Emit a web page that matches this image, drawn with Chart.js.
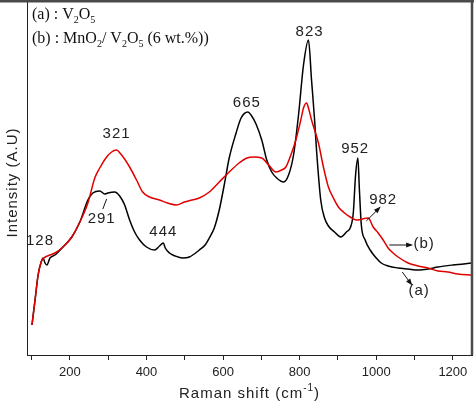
<!DOCTYPE html>
<html>
<head>
<meta charset="utf-8">
<script src="https://cdn.jsdelivr.net/npm/chart.js@4/dist/chart.umd.min.js"></script>
<style>
  html, body { margin: 0; padding: 0; background: #fff; }
  #wrap { width: 474px; height: 404px; }
</style>
</head>
<body>
<div id="wrap"><canvas id="raman"></canvas></div>
<script>
// (a) V2O5 - black curve
const ramanA = [101, 109, 117, 125, 130, 135, 140, 148, 161, 182, 205, 226, 247, 260, 278, 291, 299, 317, 330, 343,
    356, 369, 382, 400, 421, 434, 444, 449, 460, 475, 494, 512, 538, 553, 564, 577, 590, 603, 616, 634,
    647, 665, 673, 686, 701, 714, 727, 740, 758, 771, 784, 797, 810, 823, 831, 839, 844, 855, 865, 875,
    891, 907, 922, 933, 940, 946, 952, 956, 961, 971, 984, 1000, 1013, 1031, 1057, 1083, 1109, 1135, 1161, 1200, 1250];
const intensityA = [30, 55, 80, 93, 97, 92, 90, 97, 100, 108, 118, 133, 155, 162, 164, 161, 162, 163, 159, 150,
    135, 123, 115, 108, 105, 109, 112, 107, 102, 99, 97, 98, 105, 110, 117, 127, 145, 170, 197, 222,
    237, 243, 240, 231, 215, 195, 183, 177, 173, 180, 200, 240, 290, 315, 275, 235, 205, 155, 137, 129,
    123, 118, 123, 128, 142, 180, 197, 165, 130, 115, 105, 97, 92, 89, 87, 86, 85, 86, 88, 90, 92];

// (b) MnO2/V2O5 (6 wt.%) - red curve
const ramanB = [101, 109, 117, 125, 132, 148, 161, 182, 205, 226, 247, 265, 278, 296, 309, 321, 335, 356, 374, 390,
    408, 434, 455, 478, 499, 519, 538, 564, 590, 616, 642, 662, 681, 701, 719, 738, 753, 764, 777, 790,
    803, 810, 818, 823, 831, 839, 849, 862, 875, 888, 901, 917, 932, 948, 964, 979, 992, 1005, 1018, 1031,
    1044, 1057, 1083, 1109, 1135, 1161, 1187, 1213, 1250];
const intensityB = [30, 55, 80, 93, 97, 100, 102, 108, 118, 133, 152, 177, 187, 198, 203, 205, 200, 188, 175, 163,
    158, 155, 152, 150, 153, 155, 157, 163, 173, 183, 192, 197, 198, 197, 190, 183, 185, 188, 200, 215,
    235, 247, 252, 247, 235, 225, 212, 188, 168, 157, 148, 142, 138, 135, 136, 137, 128, 122, 115, 107,
    102, 98, 92, 89, 87, 84, 83, 81, 80];

const xTicks = [100, 200, 300, 400, 500, 600, 700, 800, 900, 1000, 1100, 1200];

// peak labels
const peakText = ['128', '291', '321', '444', '665', '823', '952', '982', '(b)', '(a)'];
const peakX = [122, 283, 322, 444, 662, 826, 945, 1018, 1125, 1112];
const peakY = [114, 136, 221, 123, 252, 323, 206, 155, 111, 64];

// pointer arrows [x0, y0, x1, y1, head]
const arrows = [
    [286, 146, 296, 156, false],
    [974, 134, 1008, 147, true],
    [1034, 110, 1091, 110, true],
    [1068, 83, 1091, 71, true]
];

function toPoints(xs, ys) {
    return xs.map((x, i) => ({ x: x, y: ys[i] }));
}

function drawSub(ctx, parts, x, y) {
    // parts: [text, isSub]
    parts.forEach(p => {
        if (p[1]) {
            ctx.font = '10px "Liberation Serif", "Times New Roman", serif';
            ctx.fillText(p[0], x, y + 4);
        } else {
            ctx.font = '16px "Liberation Serif", "Times New Roman", serif';
            ctx.fillText(p[0], x, y);
        }
        x += ctx.measureText(p[0]).width;
    });
}

const extras = {
    id: 'extras',
    afterDraw(chart) {
        const ctx = chart.ctx;
        const a = chart.chartArea;
        const xs = chart.scales.x;
        const ys = chart.scales.y;
        ctx.save();

        // frame
        ctx.strokeStyle = '#222';
        ctx.lineWidth = 1;
        ctx.beginPath();
        ctx.moveTo(a.left + 0.5, a.top);
        ctx.lineTo(a.left + 0.5, a.bottom);
        ctx.stroke();
        ctx.strokeStyle = '#4a4a4a';
        ctx.lineWidth = 2.5;
        ctx.beginPath();
        ctx.moveTo(0, 1.2);
        ctx.lineTo(474, 1.2);
        ctx.moveTo(a.right, 0);
        ctx.lineTo(a.right, a.bottom);
        ctx.stroke();

        // peak labels
        ctx.fillStyle = '#222';
        ctx.font = '15px "Liberation Sans", Arial, sans-serif';
        ctx.letterSpacing = '1px';
        ctx.textAlign = 'center';
        ctx.textBaseline = 'middle';
        peakText.forEach((t, i) => {
            ctx.fillText(t, xs.getPixelForValue(peakX[i]), ys.getPixelForValue(peakY[i]));
        });

        // arrows
        ctx.strokeStyle = '#111';
        ctx.fillStyle = '#111';
        ctx.lineWidth = 1;
        arrows.forEach(ar => {
            const x0 = xs.getPixelForValue(ar[0]), y0 = ys.getPixelForValue(ar[1]);
            const x1 = xs.getPixelForValue(ar[2]), y1 = ys.getPixelForValue(ar[3]);
            ctx.beginPath();
            ctx.moveTo(x0, y0);
            ctx.lineTo(x1, y1);
            ctx.stroke();
            if (ar[4]) {
                const ang = Math.atan2(y1 - y0, x1 - x0);
                ctx.beginPath();
                ctx.moveTo(x1 + 2 * Math.cos(ang), y1 + 2 * Math.sin(ang));
                ctx.lineTo(x1 - 5 * Math.cos(ang) + 2.5 * Math.sin(ang), y1 - 5 * Math.sin(ang) - 2.5 * Math.cos(ang));
                ctx.lineTo(x1 - 5 * Math.cos(ang) - 2.5 * Math.sin(ang), y1 - 5 * Math.sin(ang) + 2.5 * Math.cos(ang));
                ctx.closePath();
                ctx.fill();
            }
        });

        // legend text
        ctx.letterSpacing = '0px';
        ctx.fillStyle = '#111';
        ctx.textAlign = 'left';
        ctx.textBaseline = 'alphabetic';
        drawSub(ctx, [['(a) : V', 0], ['2', 1], ['O', 0], ['5', 1]], a.left + 5, 19);
        drawSub(ctx, [['(b) : MnO', 0], ['2', 1], ['/ V', 0], ['2', 1], ['O', 0], ['5', 1], [' (6 wt.%))', 0]], a.left + 5, 43);

        // axis titles
        ctx.fillStyle = '#222';
        ctx.letterSpacing = '1px';
        ctx.font = '15px "Liberation Sans", Arial, sans-serif';
        const t1 = 'Raman shift (cm';
        const w1 = ctx.measureText(t1).width;
        ctx.font = '10px "Liberation Sans", Arial, sans-serif';
        const w2 = ctx.measureText('-1').width;
        ctx.font = '15px "Liberation Sans", Arial, sans-serif';
        const w3 = ctx.measureText(')').width;
        let tx = (a.left + a.right) / 2 - (w1 + w2 + w3) / 2;
        ctx.textBaseline = 'middle';
        ctx.fillText(t1, tx, 394);
        ctx.font = '10px "Liberation Sans", Arial, sans-serif';
        ctx.fillText('-1', tx + w1, 388);
        ctx.font = '15px "Liberation Sans", Arial, sans-serif';
        ctx.fillText(')', tx + w1 + w2, 394);

        ctx.translate(13, (a.top + a.bottom) / 2 + 4);
        ctx.rotate(-Math.PI / 2);
        ctx.textAlign = 'center';
        ctx.fillText('Intensity (A.U)', 0, 0);
        ctx.restore();
    }
};

new Chart(document.getElementById('raman'), {
    type: 'line',
    data: {
        datasets: [
            {
                label: 'b',
                data: toPoints(ramanB, intensityB),
                borderColor: '#e00000',
                borderWidth: 1.5,
                pointRadius: 0,
                cubicInterpolationMode: 'monotone'
            },
            {
                label: 'a',
                data: toPoints(ramanA, intensityA),
                borderColor: '#000',
                borderWidth: 1.5,
                pointRadius: 0,
                cubicInterpolationMode: 'monotone'
            }
        ]
    },
    options: {
        responsive: true,
        maintainAspectRatio: false,
        animation: false,
        layout: { padding: { left: 27, right: 2, top: 2, bottom: 0 } },
        plugins: { legend: { display: false }, tooltip: { enabled: false } },
        scales: {
            x: {
                type: 'linear',
                min: 88,
                max: 1250,
                afterBuildTicks: scale => { scale.ticks = xTicks.map(v => ({ value: v })); },
                afterFit: scale => { scale.height = 49; },
                border: { display: true, color: '#222', width: 1 },
                grid: { display: true, drawOnChartArea: false, drawTicks: true, tickLength: 5, color: '#222' },
                ticks: {
                    autoSkip: false,
                    maxRotation: 0,
                    padding: 5,
                    color: '#222',
                    font: { family: '"Liberation Sans", Arial, sans-serif', size: 13 },
                    callback: v => (v % 200 === 0 ? v : '')
                }
            },
            y: {
                display: false,
                min: 0,
                max: 353
            }
        }
    },
    plugins: [extras]
});
</script>
</body>
</html>
